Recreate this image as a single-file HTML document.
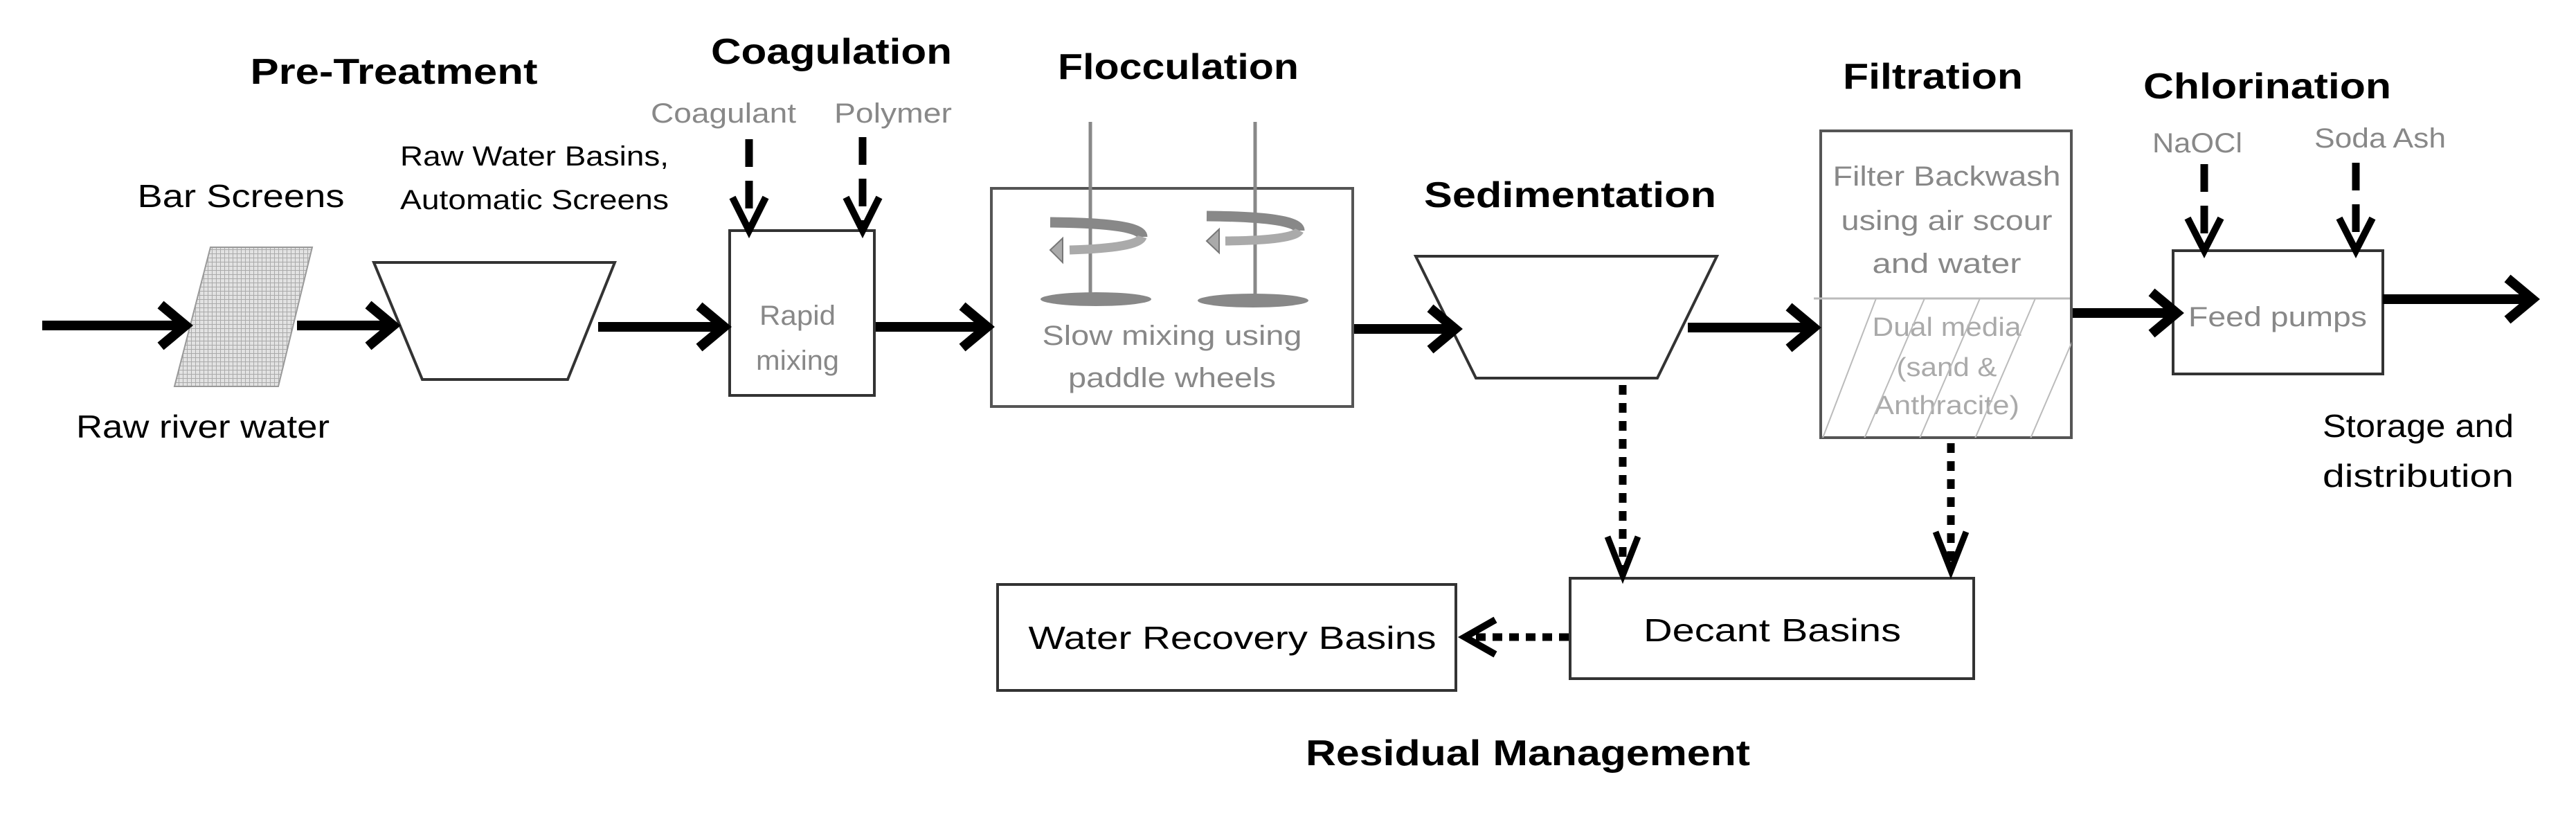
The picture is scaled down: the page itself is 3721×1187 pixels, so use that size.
<!DOCTYPE html>
<html><head><meta charset="utf-8"><style>html,body{margin:0;padding:0;background:#fff}svg{display:block}</style></head>
<body>
<svg width="3721" height="1187" viewBox="0 0 3721 1187" xmlns="http://www.w3.org/2000/svg" font-family="Liberation Sans, sans-serif">
<defs>
<clipPath id="fc"><rect x="2630" y="431" width="362" height="201"/></clipPath>
<pattern id="grid" width="6" height="6" patternUnits="userSpaceOnUse">
<rect width="6" height="6" fill="#e2e2e2"/>
<path d="M0,0.5H6M0.5,0V6" stroke="#aaa" stroke-width="1"/>
</pattern>
</defs>
<g fill="#000" font-weight="bold" font-size="52" text-anchor="middle">
<text x="569" y="121" textLength="415" lengthAdjust="spacingAndGlyphs">Pre-Treatment</text>
<text x="1201" y="92" textLength="348" lengthAdjust="spacingAndGlyphs">Coagulation</text>
<text x="1702" y="114" textLength="348" lengthAdjust="spacingAndGlyphs">Flocculation</text>
<text x="2268" y="299" textLength="422" lengthAdjust="spacingAndGlyphs">Sedimentation</text>
<text x="2792" y="128" textLength="260" lengthAdjust="spacingAndGlyphs">Filtration</text>
<text x="3275" y="142" textLength="358" lengthAdjust="spacingAndGlyphs">Chlorination</text>
<text x="2207" y="1105" textLength="642" lengthAdjust="spacingAndGlyphs">Residual Management</text>
</g>
<g fill="#000" font-size="46" text-anchor="middle">
<text x="348" y="299" textLength="299" lengthAdjust="spacingAndGlyphs">Bar Screens</text>
<text x="293" y="632" textLength="366" lengthAdjust="spacingAndGlyphs">Raw river water</text>
<text x="3493" y="631" textLength="276" lengthAdjust="spacingAndGlyphs">Storage and</text>
<text x="3493" y="703" textLength="276" lengthAdjust="spacingAndGlyphs">distribution</text>
<text x="1780" y="937" textLength="589" lengthAdjust="spacingAndGlyphs">Water Recovery Basins</text>
<text x="2560" y="926" textLength="372" lengthAdjust="spacingAndGlyphs">Decant Basins</text>
</g>
<g fill="#000" font-size="40" text-anchor="middle">
<text x="772" y="239" textLength="388" lengthAdjust="spacingAndGlyphs">Raw Water Basins,</text>
<text x="772" y="302" textLength="388" lengthAdjust="spacingAndGlyphs">Automatic Screens</text>
</g>
<g fill="#888" font-size="40" text-anchor="middle">
<text x="1045" y="177" textLength="210" lengthAdjust="spacingAndGlyphs">Coagulant</text>
<text x="1290" y="177" textLength="170" lengthAdjust="spacingAndGlyphs">Polymer</text>
<text x="1152" y="469" textLength="110" lengthAdjust="spacingAndGlyphs">Rapid</text>
<text x="1152" y="534" textLength="120" lengthAdjust="spacingAndGlyphs">mixing</text>
<text x="1693" y="498" textLength="375" lengthAdjust="spacingAndGlyphs">Slow mixing using</text>
<text x="1693" y="559" textLength="300" lengthAdjust="spacingAndGlyphs">paddle wheels</text>
<text x="2812" y="268" textLength="329" lengthAdjust="spacingAndGlyphs">Filter Backwash</text>
<text x="2812" y="332" textLength="305" lengthAdjust="spacingAndGlyphs">using air scour</text>
<text x="2812" y="394" textLength="215" lengthAdjust="spacingAndGlyphs">and water</text>
<text x="3290" y="471" textLength="258" lengthAdjust="spacingAndGlyphs">Feed pumps</text>
<text x="3174" y="220" textLength="130" lengthAdjust="spacingAndGlyphs">NaOCl</text>
<text x="3438" y="213" textLength="190" lengthAdjust="spacingAndGlyphs">Soda Ash</text>
</g>
<g fill="#aaa" font-size="38" text-anchor="middle">
<text x="2812" y="485" textLength="215" lengthAdjust="spacingAndGlyphs">Dual media</text>
<text x="2812" y="543" textLength="145" lengthAdjust="spacingAndGlyphs">(sand &amp;</text>
<text x="2812" y="598" textLength="210" lengthAdjust="spacingAndGlyphs">Anthracite)</text>
</g>
<!-- shapes -->
<polygon points="304,357 451,357 402,558 252,558" fill="url(#grid)" stroke="#999" stroke-width="2"/>
<polygon points="540,379 888,379 820,548 610,548" fill="#fff" stroke="#333" stroke-width="4"/>
<rect x="1054" y="333" width="209" height="238" fill="none" stroke="#333" stroke-width="4"/>
<rect x="1432" y="272" width="522" height="315" fill="none" stroke="#555" stroke-width="4"/>
<polygon points="2045,370 2480,370 2394,546 2132,546" fill="#fff" stroke="#333" stroke-width="4"/>
<rect x="2630" y="189" width="362" height="443" fill="none" stroke="#555" stroke-width="4"/>
<line x1="2620" y1="431" x2="2990" y2="431" stroke="#bbb" stroke-width="3"/>
<g clip-path="url(#fc)" stroke="#bbb" stroke-width="2">
<line x1="2710" y1="431" x2="2630" y2="640"/>
<line x1="2780" y1="431" x2="2690" y2="640"/>
<line x1="2860" y1="431" x2="2770" y2="640"/>
<line x1="2940" y1="431" x2="2850" y2="640"/>
<line x1="3020" y1="431" x2="2930" y2="640"/>
</g>
<rect x="3139" y="362" width="303" height="178" fill="none" stroke="#333" stroke-width="4"/>
<rect x="1441" y="844" width="662" height="153" fill="none" stroke="#333" stroke-width="4"/>
<rect x="2268" y="835" width="583" height="145" fill="none" stroke="#333" stroke-width="4"/>
<!-- paddles -->
<g stroke="#888" stroke-width="5">
<line x1="1575" y1="176" x2="1575" y2="432"/>
<line x1="1813" y1="176" x2="1813" y2="434"/>
</g>
<ellipse cx="1583" cy="432" rx="80" ry="10" fill="#888"/>
<ellipse cx="1810" cy="434" rx="80" ry="10" fill="#888"/>
<g fill="none" stroke-linecap="butt">
<path d="M1517,321 Q1650,322 1650,342" stroke="#888" stroke-width="15"/>
<path d="M1650,342 Q1645,358 1545,361" stroke="#aaa" stroke-width="13"/>
<path d="M1743,312 Q1877,313 1877,333" stroke="#888" stroke-width="15"/>
<path d="M1877,333 Q1870,347 1770,348" stroke="#aaa" stroke-width="13"/>
</g>
<polygon points="1517,361 1535,344 1535,379" fill="#aaa" stroke="#777" stroke-width="2"/>
<polygon points="1743,348 1761,331 1761,365" fill="#aaa" stroke="#777" stroke-width="2"/>
<!-- main arrows -->
<g stroke="#000" stroke-width="14" fill="none" stroke-linecap="butt" stroke-linejoin="miter">
<line x1="61" y1="470" x2="266" y2="470"/><polyline points="232,440 268,470 232,500"/>
<line x1="429" y1="470" x2="566" y2="470"/><polyline points="532,440 568,470 532,500"/>
<line x1="864" y1="472" x2="1043" y2="472"/><polyline points="1010,442 1046,472 1010,502"/>
<line x1="1265" y1="472" x2="1420" y2="472"/><polyline points="1390,442 1426,472 1390,502"/>
<line x1="1956" y1="475" x2="2098" y2="475"/><polyline points="2066,445 2102,475 2066,505"/>
<line x1="2438" y1="473" x2="2616" y2="473"/><polyline points="2584,443 2620,473 2584,503"/>
<line x1="2994" y1="452" x2="3140" y2="452"/><polyline points="3108,422 3144,452 3108,482"/>
<line x1="3442" y1="432" x2="3654" y2="432"/><polyline points="3622,402 3658,432 3622,462"/>
</g>
<!-- dashed down arrows -->
<g stroke="#000" stroke-width="11" fill="none">
<line x1="1082" y1="201" x2="1082" y2="330" stroke-dasharray="40,20"/><polyline points="1058,285 1082,333 1106,285" stroke-width="10"/>
<line x1="1246" y1="198" x2="1246" y2="330" stroke-dasharray="40,20"/><polyline points="1222,285 1246,333 1270,285" stroke-width="10"/>
<line x1="3184" y1="237" x2="3184" y2="358" stroke-dasharray="40,20"/><polyline points="3160,315 3184,362 3208,315" stroke-width="10"/>
<line x1="3403" y1="235" x2="3403" y2="358" stroke-dasharray="40,20"/><polyline points="3379,315 3403,362 3427,315" stroke-width="10"/>
</g>
<!-- dotted residual arrows -->
<g stroke="#000" stroke-width="11" fill="none">
<line x1="2344" y1="556" x2="2344" y2="825" stroke-dasharray="14,12"/><polyline points="2322,775 2344,831 2366,775" stroke-width="9"/>
<line x1="2818" y1="640" x2="2818" y2="818" stroke-dasharray="14,12"/><polyline points="2796,768 2818,824 2840,768" stroke-width="9"/>
<line x1="2266" y1="920" x2="2118" y2="920" stroke-dasharray="14,10"/><polyline points="2160,895 2116,920 2160,945" stroke-width="10"/>
</g>
</svg>
</body></html>
